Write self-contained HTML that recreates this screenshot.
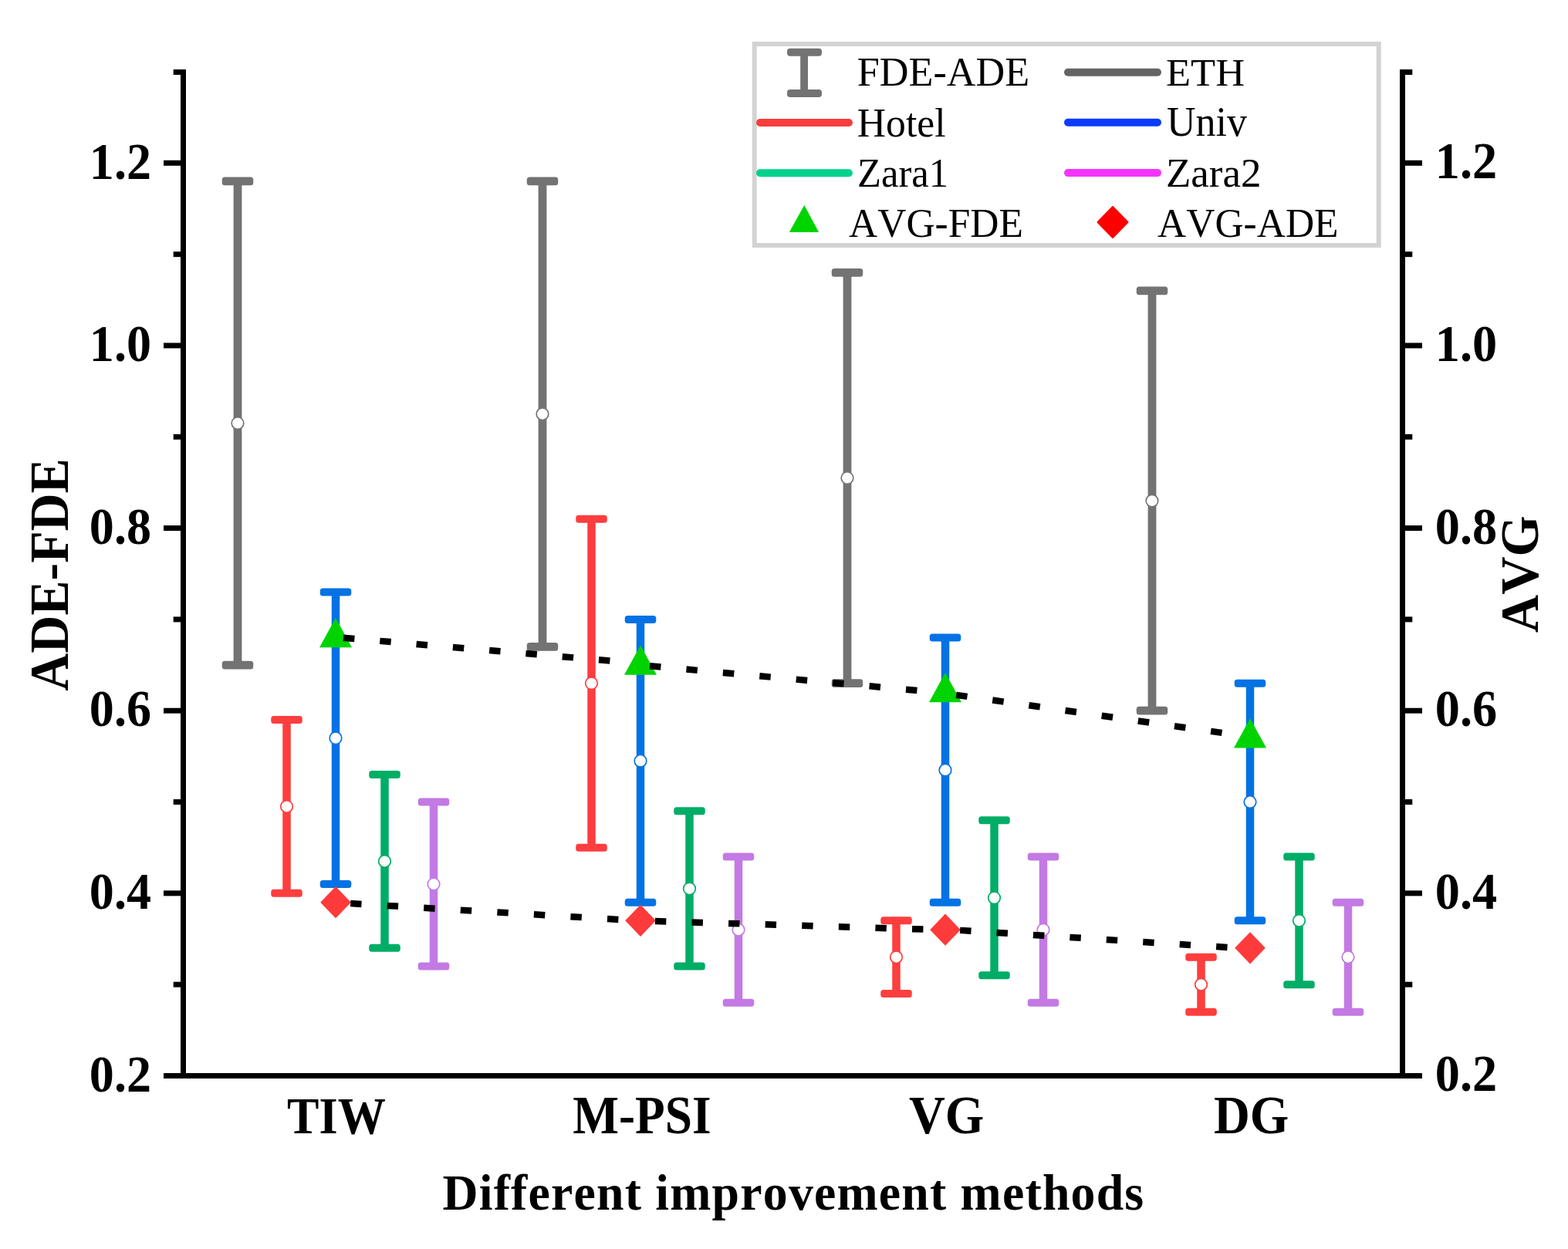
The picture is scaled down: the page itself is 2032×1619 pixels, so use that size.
<!DOCTYPE html>
<html><head><meta charset="utf-8"><title>ADE-FDE chart</title>
<style>
html,body{margin:0;padding:0;background:#fff;}
body{width:2032px;height:1619px;overflow:hidden;}
svg{display:block;}
svg text{font-family:"Liberation Serif","Times New Roman",serif;fill:#000;font-kerning:none;font-variant-ligatures:none;font-feature-settings:"kern" 0,"liga" 0;}
</style></head>
<body>
<svg width="2032" height="1619" viewBox="0 0 2032 1619">
<rect width="2032" height="1619" fill="#fff"/>
<g id="plot">
<rect x="302.60" y="234.96" width="10.8" height="627.10" fill="#737373"/>
<rect x="287.75" y="229.56" width="40.5" height="10.8" rx="3.5" fill="#737373"/>
<rect x="287.75" y="856.66" width="40.5" height="10.8" rx="3.5" fill="#737373"/>
<rect x="366.25" y="933.05" width="10.5" height="224.81" fill="#FE3E3E"/>
<rect x="351.25" y="928.05" width="40.5" height="10" rx="3.5" fill="#FE3E3E"/>
<rect x="351.25" y="1152.86" width="40.5" height="10" rx="3.5" fill="#FE3E3E"/>
<rect x="429.75" y="767.40" width="10.5" height="378.62" fill="#0272E4"/>
<rect x="414.75" y="762.40" width="40.5" height="10" rx="3.5" fill="#0272E4"/>
<rect x="414.75" y="1141.03" width="40.5" height="10" rx="3.5" fill="#0272E4"/>
<rect x="493.25" y="1004.04" width="10.5" height="224.81" fill="#00AD66"/>
<rect x="478.25" y="999.04" width="40.5" height="10" rx="3.5" fill="#00AD66"/>
<rect x="478.25" y="1223.85" width="40.5" height="10" rx="3.5" fill="#00AD66"/>
<rect x="556.75" y="1039.54" width="10.5" height="212.98" fill="#C37AE4"/>
<rect x="541.75" y="1034.54" width="40.5" height="10" rx="3.5" fill="#C37AE4"/>
<rect x="541.75" y="1247.52" width="40.5" height="10" rx="3.5" fill="#C37AE4"/>
<rect x="697.60" y="234.96" width="10.8" height="603.43" fill="#737373"/>
<rect x="682.75" y="229.56" width="40.5" height="10.8" rx="3.5" fill="#737373"/>
<rect x="682.75" y="833.00" width="40.5" height="10.8" rx="3.5" fill="#737373"/>
<rect x="761.25" y="672.75" width="10.5" height="425.95" fill="#FE3E3E"/>
<rect x="746.25" y="667.75" width="40.5" height="10" rx="3.5" fill="#FE3E3E"/>
<rect x="746.25" y="1093.70" width="40.5" height="10" rx="3.5" fill="#FE3E3E"/>
<rect x="824.75" y="802.90" width="10.5" height="366.79" fill="#0272E4"/>
<rect x="809.75" y="797.90" width="40.5" height="10" rx="3.5" fill="#0272E4"/>
<rect x="809.75" y="1164.69" width="40.5" height="10" rx="3.5" fill="#0272E4"/>
<rect x="888.25" y="1051.37" width="10.5" height="201.14" fill="#00AD66"/>
<rect x="873.25" y="1046.37" width="40.5" height="10" rx="3.5" fill="#00AD66"/>
<rect x="873.25" y="1247.52" width="40.5" height="10" rx="3.5" fill="#00AD66"/>
<rect x="951.75" y="1110.53" width="10.5" height="189.31" fill="#C37AE4"/>
<rect x="936.75" y="1105.53" width="40.5" height="10" rx="3.5" fill="#C37AE4"/>
<rect x="936.75" y="1294.84" width="40.5" height="10" rx="3.5" fill="#C37AE4"/>
<rect x="1092.60" y="353.28" width="10.8" height="532.44" fill="#737373"/>
<rect x="1077.75" y="347.88" width="40.5" height="10.8" rx="3.5" fill="#737373"/>
<rect x="1077.75" y="880.32" width="40.5" height="10.8" rx="3.5" fill="#737373"/>
<rect x="1156.25" y="1193.36" width="10.5" height="94.66" fill="#FE3E3E"/>
<rect x="1141.25" y="1188.36" width="40.5" height="10" rx="3.5" fill="#FE3E3E"/>
<rect x="1141.25" y="1283.01" width="40.5" height="10" rx="3.5" fill="#FE3E3E"/>
<rect x="1219.75" y="826.56" width="10.5" height="343.13" fill="#0272E4"/>
<rect x="1204.75" y="821.56" width="40.5" height="10" rx="3.5" fill="#0272E4"/>
<rect x="1204.75" y="1164.69" width="40.5" height="10" rx="3.5" fill="#0272E4"/>
<rect x="1283.25" y="1063.20" width="10.5" height="201.14" fill="#00AD66"/>
<rect x="1268.25" y="1058.20" width="40.5" height="10" rx="3.5" fill="#00AD66"/>
<rect x="1268.25" y="1259.35" width="40.5" height="10" rx="3.5" fill="#00AD66"/>
<rect x="1346.75" y="1110.53" width="10.5" height="189.31" fill="#C37AE4"/>
<rect x="1331.75" y="1105.53" width="40.5" height="10" rx="3.5" fill="#C37AE4"/>
<rect x="1331.75" y="1294.84" width="40.5" height="10" rx="3.5" fill="#C37AE4"/>
<rect x="1487.60" y="376.95" width="10.8" height="544.27" fill="#737373"/>
<rect x="1472.75" y="371.55" width="40.5" height="10.8" rx="3.5" fill="#737373"/>
<rect x="1472.75" y="915.82" width="40.5" height="10.8" rx="3.5" fill="#737373"/>
<rect x="1551.25" y="1240.68" width="10.5" height="70.99" fill="#FE3E3E"/>
<rect x="1536.25" y="1235.68" width="40.5" height="10" rx="3.5" fill="#FE3E3E"/>
<rect x="1536.25" y="1306.68" width="40.5" height="10" rx="3.5" fill="#FE3E3E"/>
<rect x="1614.75" y="885.72" width="10.5" height="307.63" fill="#0272E4"/>
<rect x="1599.75" y="880.72" width="40.5" height="10" rx="3.5" fill="#0272E4"/>
<rect x="1599.75" y="1188.36" width="40.5" height="10" rx="3.5" fill="#0272E4"/>
<rect x="1678.25" y="1110.53" width="10.5" height="165.65" fill="#00AD66"/>
<rect x="1663.25" y="1105.53" width="40.5" height="10" rx="3.5" fill="#00AD66"/>
<rect x="1663.25" y="1271.18" width="40.5" height="10" rx="3.5" fill="#00AD66"/>
<rect x="1741.75" y="1169.69" width="10.5" height="141.98" fill="#C37AE4"/>
<rect x="1726.75" y="1164.69" width="40.5" height="10" rx="3.5" fill="#C37AE4"/>
<rect x="1726.75" y="1306.68" width="40.5" height="10" rx="3.5" fill="#C37AE4"/>
<circle cx="308.00" cy="548.51" r="7.8" fill="#fff" stroke="#737373" stroke-width="1.7"/>
<circle cx="371.50" cy="1045.46" r="7.8" fill="#fff" stroke="#FE3E3E" stroke-width="1.7"/>
<circle cx="435.00" cy="956.72" r="7.8" fill="#fff" stroke="#0272E4" stroke-width="1.7"/>
<circle cx="498.50" cy="1116.45" r="7.8" fill="#fff" stroke="#00AD66" stroke-width="1.7"/>
<circle cx="562.00" cy="1146.03" r="7.8" fill="#fff" stroke="#C37AE4" stroke-width="1.7"/>
<circle cx="703.00" cy="536.68" r="7.8" fill="#fff" stroke="#737373" stroke-width="1.7"/>
<circle cx="766.50" cy="885.72" r="7.8" fill="#fff" stroke="#FE3E3E" stroke-width="1.7"/>
<circle cx="830.00" cy="986.30" r="7.8" fill="#fff" stroke="#0272E4" stroke-width="1.7"/>
<circle cx="893.50" cy="1151.94" r="7.8" fill="#fff" stroke="#00AD66" stroke-width="1.7"/>
<circle cx="957.00" cy="1205.19" r="7.8" fill="#fff" stroke="#C37AE4" stroke-width="1.7"/>
<circle cx="1098.00" cy="619.50" r="7.8" fill="#fff" stroke="#737373" stroke-width="1.7"/>
<circle cx="1161.50" cy="1240.68" r="7.8" fill="#fff" stroke="#FE3E3E" stroke-width="1.7"/>
<circle cx="1225.00" cy="998.13" r="7.8" fill="#fff" stroke="#0272E4" stroke-width="1.7"/>
<circle cx="1288.50" cy="1163.78" r="7.8" fill="#fff" stroke="#00AD66" stroke-width="1.7"/>
<circle cx="1352.00" cy="1205.19" r="7.8" fill="#fff" stroke="#C37AE4" stroke-width="1.7"/>
<circle cx="1493.00" cy="649.08" r="7.8" fill="#fff" stroke="#737373" stroke-width="1.7"/>
<circle cx="1556.50" cy="1276.18" r="7.8" fill="#fff" stroke="#FE3E3E" stroke-width="1.7"/>
<circle cx="1620.00" cy="1039.54" r="7.8" fill="#fff" stroke="#0272E4" stroke-width="1.7"/>
<circle cx="1683.50" cy="1193.36" r="7.8" fill="#fff" stroke="#00AD66" stroke-width="1.7"/>
<circle cx="1747.00" cy="1240.68" r="7.8" fill="#fff" stroke="#C37AE4" stroke-width="1.7"/>
<polygon points="435.00,801.10 414.00,839.30 456.00,839.30" fill="#00D400"/>
<polygon points="830.00,836.59 809.00,874.79 851.00,874.79" fill="#00D400"/>
<polygon points="1225.00,872.09 1204.00,910.29 1246.00,910.29" fill="#00D400"/>
<polygon points="1620.00,931.25 1599.00,969.45 1641.00,969.45" fill="#00D400"/>
<polygon points="435.00,1149.09 454.80,1169.69 435.00,1190.29 415.20,1169.69" fill="#FE3A3A"/>
<polygon points="830.00,1172.76 849.80,1193.36 830.00,1213.96 810.20,1193.36" fill="#FE3A3A"/>
<polygon points="1225.00,1184.59 1244.80,1205.19 1225.00,1225.79 1205.20,1205.19" fill="#FE3A3A"/>
<polygon points="1620.00,1208.25 1639.80,1228.85 1620.00,1249.45 1600.20,1228.85" fill="#FE3A3A"/>
<line x1="445.00" y1="826.80" x2="459.40" y2="828.04" stroke="#000" stroke-width="8.5"/>
<line x1="492.29" y1="830.86" x2="506.69" y2="832.09" stroke="#000" stroke-width="8.5"/>
<line x1="539.57" y1="834.92" x2="553.97" y2="836.15" stroke="#000" stroke-width="8.5"/>
<line x1="586.86" y1="838.98" x2="601.26" y2="840.21" stroke="#000" stroke-width="8.5"/>
<line x1="634.14" y1="843.04" x2="648.54" y2="844.27" stroke="#000" stroke-width="8.5"/>
<line x1="681.43" y1="847.09" x2="695.83" y2="848.33" stroke="#000" stroke-width="8.5"/>
<line x1="728.71" y1="851.15" x2="743.11" y2="852.39" stroke="#000" stroke-width="8.5"/>
<line x1="776.00" y1="855.21" x2="790.40" y2="856.45" stroke="#000" stroke-width="8.5"/>
<line x1="842.00" y1="863.21" x2="856.40" y2="864.53" stroke="#000" stroke-width="8.5"/>
<line x1="889.43" y1="867.57" x2="903.83" y2="868.89" stroke="#000" stroke-width="8.5"/>
<line x1="936.86" y1="871.93" x2="951.26" y2="873.25" stroke="#000" stroke-width="8.5"/>
<line x1="984.29" y1="876.28" x2="998.69" y2="877.61" stroke="#000" stroke-width="8.5"/>
<line x1="1031.71" y1="880.64" x2="1046.11" y2="881.96" stroke="#000" stroke-width="8.5"/>
<line x1="1079.14" y1="885.00" x2="1093.54" y2="886.32" stroke="#000" stroke-width="8.5"/>
<line x1="1126.57" y1="889.35" x2="1140.97" y2="890.68" stroke="#000" stroke-width="8.5"/>
<line x1="1174.00" y1="893.71" x2="1188.40" y2="895.03" stroke="#000" stroke-width="8.5"/>
<line x1="1239.10" y1="900.85" x2="1253.50" y2="902.90" stroke="#000" stroke-width="8.5"/>
<line x1="1286.24" y1="907.56" x2="1300.64" y2="909.61" stroke="#000" stroke-width="8.5"/>
<line x1="1333.39" y1="914.27" x2="1347.79" y2="916.33" stroke="#000" stroke-width="8.5"/>
<line x1="1380.53" y1="920.99" x2="1394.93" y2="923.04" stroke="#000" stroke-width="8.5"/>
<line x1="1427.67" y1="927.70" x2="1442.07" y2="929.75" stroke="#000" stroke-width="8.5"/>
<line x1="1474.81" y1="934.42" x2="1489.21" y2="936.47" stroke="#000" stroke-width="8.5"/>
<line x1="1521.96" y1="941.13" x2="1536.36" y2="943.18" stroke="#000" stroke-width="8.5"/>
<line x1="1569.10" y1="947.85" x2="1583.50" y2="949.90" stroke="#000" stroke-width="8.5"/>
<line x1="454.10" y1="1171.05" x2="468.50" y2="1171.92" stroke="#000" stroke-width="8.5"/>
<line x1="501.66" y1="1173.92" x2="516.06" y2="1174.78" stroke="#000" stroke-width="8.5"/>
<line x1="549.21" y1="1176.78" x2="563.61" y2="1177.64" stroke="#000" stroke-width="8.5"/>
<line x1="596.77" y1="1179.64" x2="611.17" y2="1180.50" stroke="#000" stroke-width="8.5"/>
<line x1="644.33" y1="1182.50" x2="658.73" y2="1183.36" stroke="#000" stroke-width="8.5"/>
<line x1="691.89" y1="1185.36" x2="706.29" y2="1186.22" stroke="#000" stroke-width="8.5"/>
<line x1="739.44" y1="1188.22" x2="753.84" y2="1189.08" stroke="#000" stroke-width="8.5"/>
<line x1="787.00" y1="1191.08" x2="801.40" y2="1191.95" stroke="#000" stroke-width="8.5"/>
<line x1="848.90" y1="1193.98" x2="863.30" y2="1194.42" stroke="#000" stroke-width="8.5"/>
<line x1="896.49" y1="1195.44" x2="910.89" y2="1195.88" stroke="#000" stroke-width="8.5"/>
<line x1="944.07" y1="1196.89" x2="958.47" y2="1197.33" stroke="#000" stroke-width="8.5"/>
<line x1="991.66" y1="1198.35" x2="1006.06" y2="1198.79" stroke="#000" stroke-width="8.5"/>
<line x1="1039.24" y1="1199.80" x2="1053.64" y2="1200.24" stroke="#000" stroke-width="8.5"/>
<line x1="1086.83" y1="1201.26" x2="1101.23" y2="1201.70" stroke="#000" stroke-width="8.5"/>
<line x1="1134.41" y1="1202.72" x2="1148.81" y2="1203.16" stroke="#000" stroke-width="8.5"/>
<line x1="1182.00" y1="1204.17" x2="1196.40" y2="1204.61" stroke="#000" stroke-width="8.5"/>
<line x1="1244.10" y1="1205.88" x2="1258.50" y2="1206.80" stroke="#000" stroke-width="8.5"/>
<line x1="1291.53" y1="1208.90" x2="1305.93" y2="1209.82" stroke="#000" stroke-width="8.5"/>
<line x1="1338.96" y1="1211.92" x2="1353.36" y2="1212.84" stroke="#000" stroke-width="8.5"/>
<line x1="1386.39" y1="1214.94" x2="1400.79" y2="1215.86" stroke="#000" stroke-width="8.5"/>
<line x1="1433.81" y1="1217.96" x2="1448.21" y2="1218.88" stroke="#000" stroke-width="8.5"/>
<line x1="1481.24" y1="1220.99" x2="1495.64" y2="1221.90" stroke="#000" stroke-width="8.5"/>
<line x1="1528.67" y1="1224.01" x2="1543.07" y2="1224.92" stroke="#000" stroke-width="8.5"/>
<line x1="1576.10" y1="1227.03" x2="1590.50" y2="1227.95" stroke="#000" stroke-width="8.5"/>
</g>
<g id="axes">
<rect x="234.0" y="90" width="7" height="1308.0" fill="#000"/>
<rect x="1814.0" y="90" width="7" height="1308.0" fill="#000"/>
<rect x="234.0" y="1391.0" width="1587.0" height="7" fill="#000"/>
<rect x="212.0" y="1391.00" width="22" height="7" fill="#000"/>
<rect x="1821.0" y="1391.00" width="22" height="7" fill="#000"/>
<rect x="224.7" y="1272.68" width="9.3" height="7" fill="#000"/>
<rect x="1821.0" y="1272.68" width="9.3" height="7" fill="#000"/>
<rect x="212.0" y="1154.36" width="22" height="7" fill="#000"/>
<rect x="1821.0" y="1154.36" width="22" height="7" fill="#000"/>
<rect x="224.7" y="1036.04" width="9.3" height="7" fill="#000"/>
<rect x="1821.0" y="1036.04" width="9.3" height="7" fill="#000"/>
<rect x="212.0" y="917.72" width="22" height="7" fill="#000"/>
<rect x="1821.0" y="917.72" width="22" height="7" fill="#000"/>
<rect x="224.7" y="799.40" width="9.3" height="7" fill="#000"/>
<rect x="1821.0" y="799.40" width="9.3" height="7" fill="#000"/>
<rect x="212.0" y="681.08" width="22" height="7" fill="#000"/>
<rect x="1821.0" y="681.08" width="22" height="7" fill="#000"/>
<rect x="224.7" y="562.76" width="9.3" height="7" fill="#000"/>
<rect x="1821.0" y="562.76" width="9.3" height="7" fill="#000"/>
<rect x="212.0" y="444.44" width="22" height="7" fill="#000"/>
<rect x="1821.0" y="444.44" width="22" height="7" fill="#000"/>
<rect x="224.7" y="326.12" width="9.3" height="7" fill="#000"/>
<rect x="1821.0" y="326.12" width="9.3" height="7" fill="#000"/>
<rect x="212.0" y="207.80" width="22" height="7" fill="#000"/>
<rect x="1821.0" y="207.80" width="22" height="7" fill="#000"/>
<rect x="224.7" y="90" width="9.3" height="7" fill="#000"/>
<rect x="1821.0" y="90" width="9.3" height="7" fill="#000"/>
</g>
<g id="legend">
<rect x="977.7" y="57" width="809" height="261" fill="#fff" stroke="#D3D3D3" stroke-width="6"/>
<rect x="1037.2" y="63" width="9.8" height="63" fill="#737373"/>
<rect x="1020" y="62.7" width="45" height="10" rx="4" fill="#737373"/>
<rect x="1020" y="116" width="45" height="10" rx="4" fill="#737373"/>
<line x1="1384" y1="93.7" x2="1500" y2="93.7" stroke="#646464" stroke-width="10" stroke-linecap="round"/>
<line x1="985" y1="159" x2="1100" y2="159" stroke="#FA3C3C" stroke-width="10" stroke-linecap="round"/>
<line x1="1384" y1="158.7" x2="1500" y2="158.7" stroke="#0A3CFF" stroke-width="10" stroke-linecap="round"/>
<line x1="985" y1="224.2" x2="1100" y2="224.2" stroke="#00D28C" stroke-width="10" stroke-linecap="round"/>
<line x1="1384" y1="224.1" x2="1500" y2="224.1" stroke="#F535FF" stroke-width="10" stroke-linecap="round"/>
<polygon points="1042.3,266 1022.8,301 1061.1,301" fill="#00D400"/>
<polygon points="1442,268 1461.5,288 1442,308 1422.5,288" fill="#FF0000" stroke="#FF0000" stroke-width="2" stroke-linejoin="round"/>
</g>
<g id="texts">
<g transform="matrix(1.00182 0 0 1.06508 2.653 -91.831)"><text x="193.00" y="1414.50" font-size="64" font-weight="bold" text-anchor="end">0.2</text></g>
<g transform="matrix(1.00547 0 0 1.06667 -12.411 -94.310)"><text x="1862.00" y="1414.50" font-size="64" font-weight="bold">0.2</text></g>
<g transform="matrix(1.00182 0 0 1.06508 2.653 -76.430)"><text x="193.00" y="1177.86" font-size="64" font-weight="bold" text-anchor="end">0.4</text></g>
<g transform="matrix(1.00547 0 0 1.06667 -12.411 -78.534)"><text x="1862.00" y="1177.86" font-size="64" font-weight="bold">0.4</text></g>
<g transform="matrix(1.00182 0 0 1.06508 2.653 -61.030)"><text x="193.00" y="941.22" font-size="64" font-weight="bold" text-anchor="end">0.6</text></g>
<g transform="matrix(1.00547 0 0 1.06667 -12.411 -62.758)"><text x="1862.00" y="941.22" font-size="64" font-weight="bold">0.6</text></g>
<g transform="matrix(1.00182 0 0 1.06508 2.653 -45.630)"><text x="193.00" y="704.58" font-size="64" font-weight="bold" text-anchor="end">0.8</text></g>
<g transform="matrix(1.00547 0 0 1.06667 -12.411 -46.982)"><text x="1862.00" y="704.58" font-size="64" font-weight="bold">0.8</text></g>
<g transform="matrix(1.00182 0 0 1.06508 2.653 -30.229)"><text x="193.00" y="467.94" font-size="64" font-weight="bold" text-anchor="end">1.0</text></g>
<g transform="matrix(1.00547 0 0 1.06667 -12.411 -31.206)"><text x="1862.00" y="467.94" font-size="64" font-weight="bold">1.0</text></g>
<g transform="matrix(1.00182 0 0 1.06508 2.653 -14.829)"><text x="193.00" y="231.30" font-size="64" font-weight="bold" text-anchor="end">1.2</text></g>
<g transform="matrix(1.00547 0 0 1.06667 -12.411 -15.430)"><text x="1862.00" y="231.30" font-size="64" font-weight="bold">1.2</text></g>
<g transform="matrix(0.97077 0 0 1.05000 12.645 -73.600)"><text x="436.00" y="1469.50" font-size="64" font-weight="bold" text-anchor="middle">TIW</text></g>
<g transform="matrix(0.98933 0 0 1.07619 9.810 -112.000)"><text x="831.00" y="1469.50" font-size="64" font-weight="bold" text-anchor="middle">M-PSI</text></g>
<g transform="matrix(1.01290 0 0 1.07619 -15.313 -112.100)"><text x="1226.00" y="1469.50" font-size="64" font-weight="bold" text-anchor="middle">VG</text></g>
<g transform="matrix(1.01290 0 0 1.07619 -20.410 -112.100)"><text x="1621.00" y="1469.50" font-size="64" font-weight="bold" text-anchor="middle">DG</text></g>
<g transform="matrix(0.99703 0 0 1.03051 3.502 -47.764)"><text x="1028.00" y="1568.00" font-size="64" font-weight="bold" text-anchor="middle" letter-spacing="1.2">Different improvement methods</text></g>
<g transform="matrix(1.07442 0 0 1.02803 -6.449 -22.001)"><text x="0" y="0" font-size="66" font-weight="bold" text-anchor="middle" transform="translate(88,746) rotate(-90)">ADE-FDE</text></g>
<g transform="matrix(1.07045 0 0 1.03497 -140.486 -26.766)"><text x="0" y="0" font-size="66" font-weight="bold" text-anchor="middle" transform="translate(1993,745) rotate(-90)">AVG</text></g>
<g transform="matrix(1.00459 0 0 1.00571 -6.310 -0.534)"><text x="1112.00" y="111.00" font-size="52">FDE-ADE</text></g>
<g transform="matrix(1.01020 0 0 0.98000 -16.449 2.320)"><text x="1512.00" y="111.00" font-size="52">ETH</text></g>
<g transform="matrix(0.99286 0 0 1.00000 6.757 1.000)"><text x="1112.00" y="176.00" font-size="52">Hotel</text></g>
<g transform="matrix(1.00000 0 0 1.03889 0.000 -6.883)"><text x="1512.00" y="176.00" font-size="52">Univ</text></g>
<g transform="matrix(0.97414 0 0 1.00000 27.810 1.000)"><text x="1112.00" y="241.00" font-size="52">Zara1</text></g>
<g transform="matrix(1.01810 0 0 1.00857 -28.409 -0.966)"><text x="1512.00" y="241.00" font-size="52">Zara2</text></g>
<g transform="matrix(0.98978 0 0 1.03429 10.365 -9.491)"><text x="1101.00" y="306.00" font-size="52">AVG-FDE</text></g>
<g transform="matrix(0.99013 0 0 1.03429 13.927 -9.491)"><text x="1501.00" y="306.00" font-size="52">AVG-ADE</text></g>
</g>
</svg>
</body></html>
